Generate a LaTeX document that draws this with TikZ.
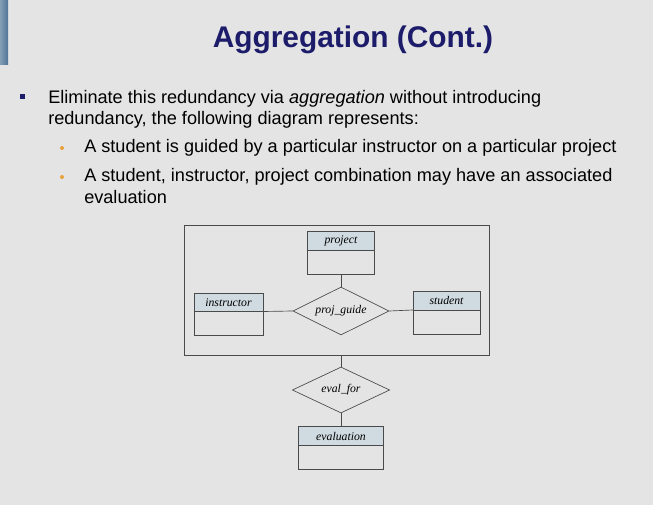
\documentclass[tikz,border=0pt]{standalone}
\usepackage{fontspec}
\setmainfont{Liberation Sans}
\newfontfamily\erfont{Liberation Serif}
\usetikzlibrary{positioning, shapes.geometric}
\definecolor{slidebg}{HTML}{E4E4E4}
\definecolor{titleblue}{HTML}{1C1C6B}
\definecolor{hdrfill}{HTML}{D0DAE1}
\definecolor{dotorange}{HTML}{E9A23B}
\definecolor{erline}{HTML}{4A4A4A}
\definecolor{stripblue}{HTML}{4F7597}

\tikzset{
  line/.style={draw=erline, line width=0.5pt},
  ehead/.style={line, fill=hdrfill, minimum height=14pt, inner sep=0pt,
    font=\erfont\itshape\fontsize{8.8}{10}\selectfont},
  ebody/.style={line, minimum height=18pt, inner sep=0pt},
  rel/.style={line, diamond, aspect=2, inner sep=0pt,
    font=\erfont\itshape\fontsize{8.8}{10}\selectfont},
  bodytext/.style={anchor=base west, inner sep=0pt, font=\fontsize{13.6}{16}\selectfont}
}

\begin{document}
\begin{tikzpicture}[x=0.75pt, y=-0.75pt]
  \fill[slidebg] (0,0) rectangle (653,505);
  \useasboundingbox (0,0) rectangle (653,505);
  \shade[left color=stripblue!70, right color=stripblue] (0,0) rectangle (8,65);

  % title
  \node[text=titleblue, font=\bfseries\fontsize{22.4}{26}\selectfont] (title) at (353,40) {Aggregation (Cont.)};

  % bullets
  \fill[titleblue] (19.5,94.5) rectangle (24.5,99.5);
  \node[bodytext] (l1a) at (48,104) {Eliminate this redundancy via \textit{aggregation} without introducing};
  \node[bodytext] (l1b) at (48,125) {redundancy, the following diagram represents:};
  \fill[dotorange] (62,148) circle (2);
  \node[bodytext] (l2) at (84,153) {A student is guided by a particular instructor on a particular project};
  \fill[dotorange] (62,177) circle (2);
  \node[bodytext] (l3a) at (84,182) {A student, instructor, project combination may have an associated};
  \node[bodytext] (l3b) at (84,204) {evaluation};

  % aggregated relationship
  \node[line, minimum width=228.75pt, minimum height=97.5pt] (agg) at (336.5,290) {};

  \node[ehead, minimum width=50pt] (project) at (341,241) {project};
  \node[ebody, minimum width=50pt, below=-0.5pt of project] (projectb) {};
  \node[ehead, minimum width=52pt] (instructor) at (228.5,302.5) {instructor};
  \node[ebody, minimum width=52pt, below=-0.5pt of instructor] (instructorb) {};
  \node[ehead, minimum width=50pt] (student) at (446.5,301) {student};
  \node[ebody, minimum width=50pt, below=-0.5pt of student] (studentb) {};
  \node[rel, minimum width=72pt, minimum height=36pt] (pguide) at (341,311) {proj\_guide};

  \draw[line] (projectb.south) -- (pguide.north);
  \draw[line] (instructorb.north east) -- (pguide.west);
  \draw[line] (pguide.east) -- (studentb.north west);

  % evaluation
  \node[rel, minimum width=73pt, minimum height=34.5pt] (evalfor) at (341,390) {eval\_for};
  \node[ehead, minimum width=64pt] (evaluation) at (341,436) {evaluation};
  \node[ebody, minimum width=64pt, below=-0.5pt of evaluation] (evaluationb) {};

  \draw[line] (evalfor.north |- agg.south) -- (evalfor.north);
  \draw[line] (evalfor.south) -- (evaluation.north);
\end{tikzpicture}
\end{document}
